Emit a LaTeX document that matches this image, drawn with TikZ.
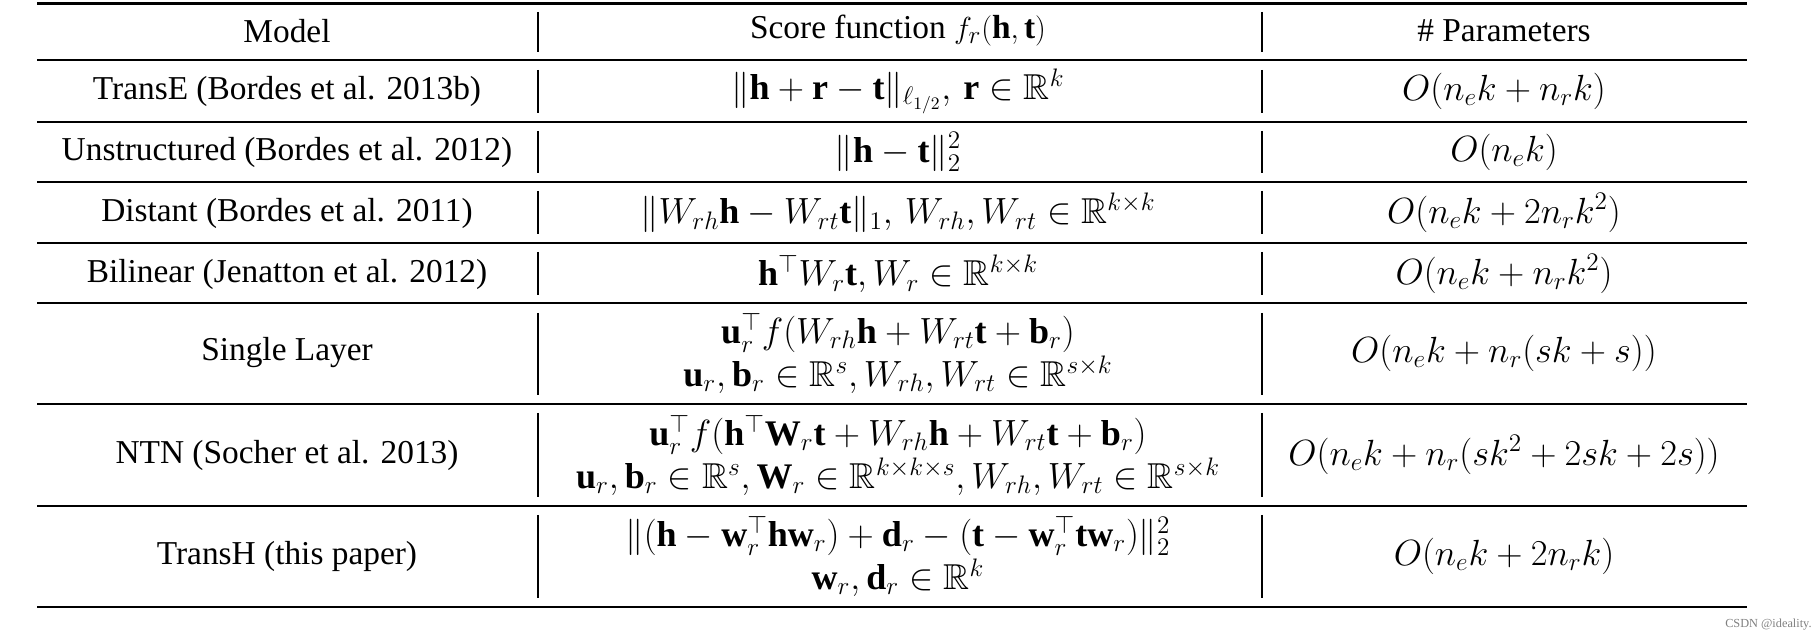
\documentclass[tikz,border=0pt]{standalone}
\usepackage{amsmath,amssymb}
\usepackage{fontspec}
\setmainfont{Liberation Serif}
\begin{document}
\begin{tikzpicture}[x=0.02cm,y=-0.02cm,
  cell/.style={font=\fontsize{19}{24}\selectfont,align=center,inner sep=0pt},
  mcell/.style={font=\fontsize{20.5}{24.5}\selectfont,align=center,inner sep=0pt},
  rule/.style={line width=0.7pt},
  thick rule/.style={line width=1.6pt},
  sep/.style={line width=0.8pt}]
\useasboundingbox (0,0) rectangle (1820,641);
\fill[white] (0,0) rectangle (1820,641);
\draw[thick rule] (37,3.5) -- (1747,3.5);
\foreach \y in {60,122,182,243,303,404,506} \draw[rule] (37,\y) -- (1747,\y);
\draw[thick rule] (37,607) -- (1747,607);
% separators
\foreach \a/\b in {12/52,70/113,131/173,191/234,252/295,313/395,413/497,515/598}{
  \draw[sep] (538,\a) -- (538,\b);
  \draw[sep] (1262,\a) -- (1262,\b);}
% header
\node[cell] (h1) at (287,31) {Model};
\node[cell] (h2) at (898,31) {Score function $f_r(\mathbf{h},\mathbf{t})$};
\node[cell] (h3) at (1504,31) {\# Parameters};
% rows
\node[cell] (m1) at (287,91) {TransE (Bordes et al. 2013b)};
\node[mcell] (s1) at (898,91) {$\|\mathbf{h}+\mathbf{r}-\mathbf{t}\|_{\ell_{1/2}},\,\mathbf{r}\in\mathbb{R}^k$};
\node[mcell] (p1) at (1504,91) {$O(n_ek+n_rk)$};
\node[cell] (m2) at (287,152) {Unstructured (Bordes et al. 2012)};
\node[mcell] (s2) at (898,152) {$\|\mathbf{h}-\mathbf{t}\|_2^2$};
\node[mcell] (p2) at (1504,152) {$O(n_ek)$};
\node[cell] (m3) at (287,213) {Distant (Bordes et al. 2011)};
\node[mcell] (s3) at (898,213) {$\|W_{rh}\mathbf{h}-W_{rt}\mathbf{t}\|_1,\,W_{rh},W_{rt}\in\mathbb{R}^{k\times k}$};
\node[mcell] (p3) at (1504,213) {$O(n_ek+2n_rk^2)$};
\node[cell] (m4) at (287,274) {Bilinear (Jenatton et al. 2012)};
\node[mcell] (s4) at (898,274) {$\mathbf{h}^\top W_r\mathbf{t}, W_r\in\mathbb{R}^{k\times k}$};
\node[mcell] (p4) at (1504,274) {$O(n_ek+n_rk^2)$};
\node[cell] (m5) at (287,353) {Single Layer};
\node[mcell] (s5) at (898,353) {$\mathbf{u}_r^\top f(W_{rh}\mathbf{h}+W_{rt}\mathbf{t}+\mathbf{b}_r)$\\ $\mathbf{u}_r,\mathbf{b}_r\in\mathbb{R}^s, W_{rh},W_{rt}\in\mathbb{R}^{s\times k}$};
\node[mcell] (p5) at (1504,353) {$O(n_ek+n_r(sk+s))$};
\node[cell] (m6) at (287,455) {NTN (Socher et al. 2013)};
\node[mcell] (s6) at (898,455) {$\mathbf{u}_r^\top f(\mathbf{h}^\top\mathbf{W}_r\mathbf{t}+W_{rh}\mathbf{h}+W_{rt}\mathbf{t}+\mathbf{b}_r)$\\ $\mathbf{u}_r,\mathbf{b}_r\in\mathbb{R}^s,\mathbf{W}_r\in\mathbb{R}^{k\times k\times s},W_{rh},W_{rt}\in\mathbb{R}^{s\times k}$};
\node[mcell] (p6) at (1504,455) {$O(n_ek+n_r(sk^2+2sk+2s))$};
\node[cell] (m7) at (287,556) {TransH (this paper)};
\node[mcell] (s7) at (898,556) {$\|(\mathbf{h}-\mathbf{w}_r^\top\mathbf{h}\mathbf{w}_r)+\mathbf{d}_r-(\mathbf{t}-\mathbf{w}_r^\top\mathbf{t}\mathbf{w}_r)\|_2^2$\\ $\mathbf{w}_r,\mathbf{d}_r\in\mathbb{R}^k$};
\node[mcell] (p7) at (1504,556) {$O(n_ek+2n_rk)$};
\node[font=\fontsize{7}{8}\selectfont,text=gray,anchor=east,inner sep=0pt] (wm) at (1812,625) {CSDN @ideality.};
\end{tikzpicture}
\end{document}
